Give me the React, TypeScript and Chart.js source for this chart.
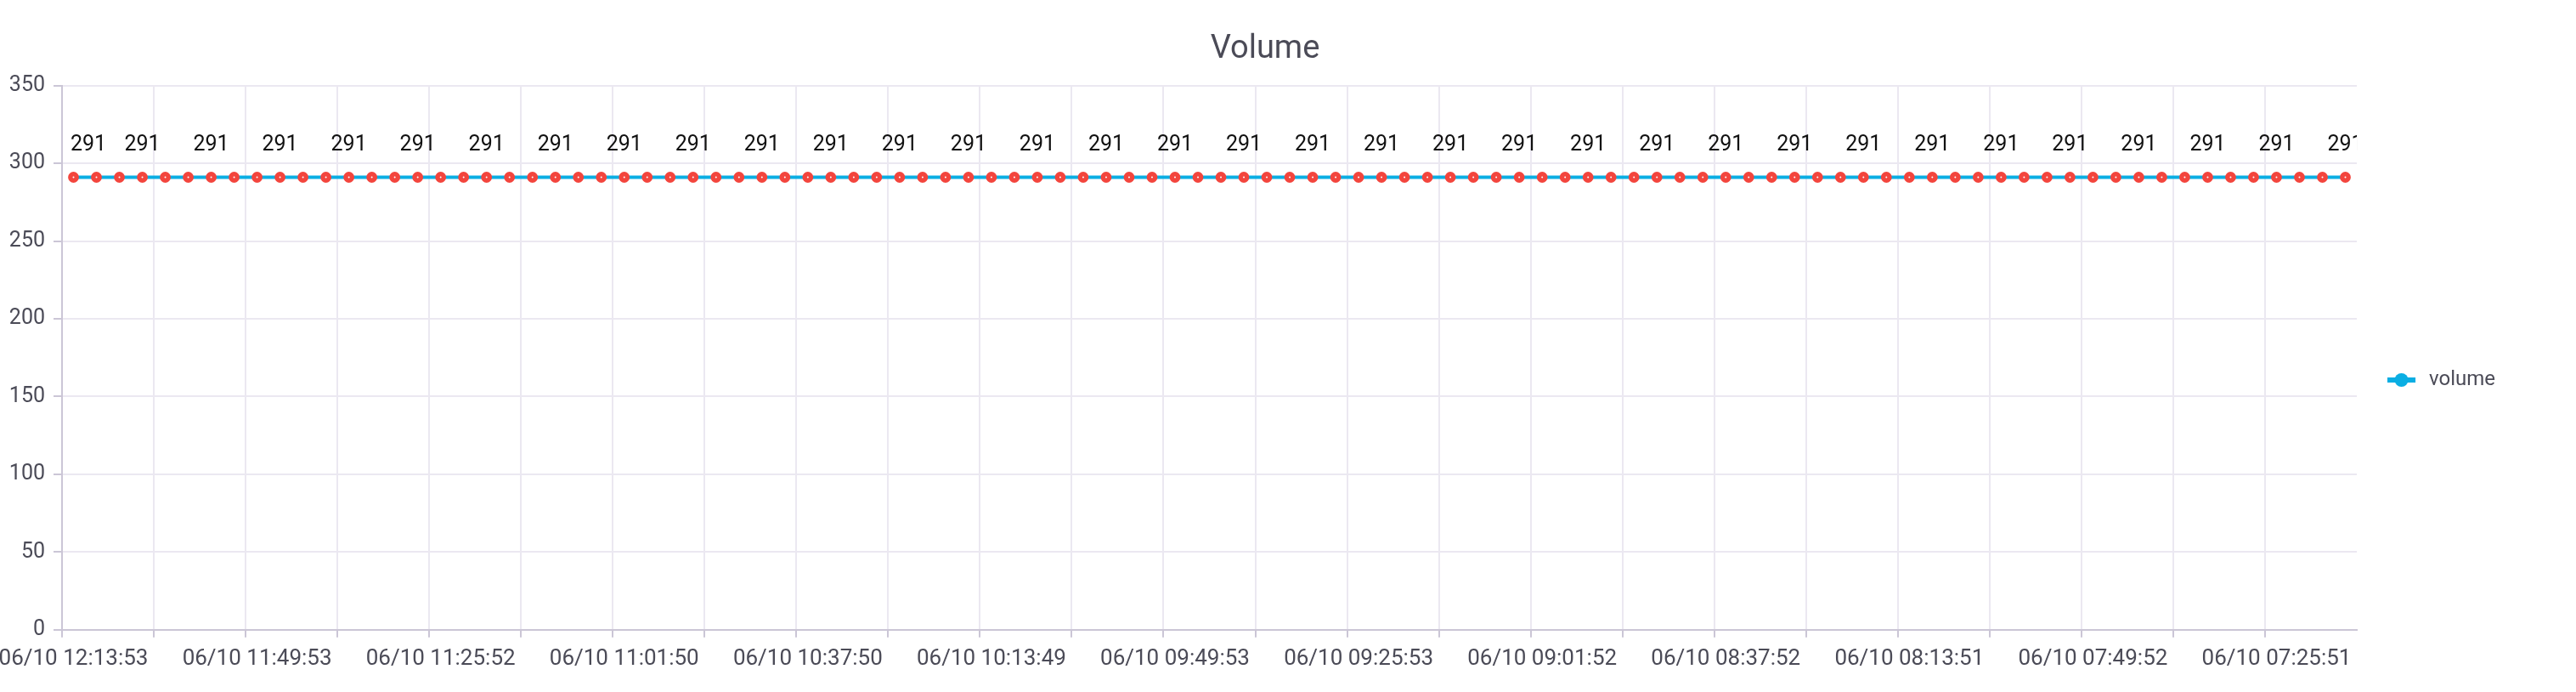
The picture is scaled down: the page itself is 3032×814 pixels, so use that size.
import React, { useEffect, useRef } from "react";
import { Chart, registerables, layouts } from "chart.js";

Chart.register(...registerables);

const TITLE = "Volume";
const SERIES_NAME = "volume";

const CATEGORIES = [
  "06/10 12:13:53", "06/10 12:10:53", "06/10 12:07:53", "06/10 12:04:53", "06/10 12:01:53",
  "06/10 11:58:53", "06/10 11:55:53", "06/10 11:52:53", "06/10 11:49:53", "06/10 11:46:53",
  "06/10 11:43:53", "06/10 11:40:53", "06/10 11:37:53", "06/10 11:34:52", "06/10 11:31:52",
  "06/10 11:28:52", "06/10 11:25:52", "06/10 11:22:52", "06/10 11:19:52", "06/10 11:16:51",
  "06/10 11:13:51", "06/10 11:10:51", "06/10 11:07:51", "06/10 11:04:50", "06/10 11:01:50",
  "06/10 10:58:50", "06/10 10:55:50", "06/10 10:52:50", "06/10 10:49:50", "06/10 10:46:50",
  "06/10 10:43:50", "06/10 10:40:50", "06/10 10:37:50", "06/10 10:34:50", "06/10 10:31:50",
  "06/10 10:28:50", "06/10 10:25:49", "06/10 10:22:49", "06/10 10:19:49", "06/10 10:16:49",
  "06/10 10:13:49", "06/10 10:10:49", "06/10 10:07:50", "06/10 10:04:50", "06/10 10:01:51",
  "06/10 09:58:51", "06/10 09:55:52", "06/10 09:52:52", "06/10 09:49:53", "06/10 09:46:53",
  "06/10 09:43:53", "06/10 09:40:53", "06/10 09:37:53", "06/10 09:34:53", "06/10 09:31:53",
  "06/10 09:28:53", "06/10 09:25:53", "06/10 09:22:53", "06/10 09:19:53", "06/10 09:16:53",
  "06/10 09:13:52", "06/10 09:10:52", "06/10 09:07:52", "06/10 09:04:52", "06/10 09:01:52",
  "06/10 08:58:52", "06/10 08:55:52", "06/10 08:52:52", "06/10 08:49:52", "06/10 08:46:52",
  "06/10 08:43:52", "06/10 08:40:52", "06/10 08:37:52", "06/10 08:34:52", "06/10 08:31:52",
  "06/10 08:28:52", "06/10 08:25:51", "06/10 08:22:51", "06/10 08:19:51", "06/10 08:16:51",
  "06/10 08:13:51", "06/10 08:10:51", "06/10 08:07:51", "06/10 08:04:51", "06/10 08:01:52",
  "06/10 07:58:52", "06/10 07:55:52", "06/10 07:52:52", "06/10 07:49:52", "06/10 07:46:52",
  "06/10 07:43:52", "06/10 07:40:52", "06/10 07:37:51", "06/10 07:34:51", "06/10 07:31:51",
  "06/10 07:28:51", "06/10 07:25:51", "06/10 07:22:51", "06/10 07:19:51", "06/10 07:16:51",
];

const VOLUME = [
  291, 291, 291, 291, 291, 291, 291, 291, 291, 291,
  291, 291, 291, 291, 291, 291, 291, 291, 291, 291,
  291, 291, 291, 291, 291, 291, 291, 291, 291, 291,
  291, 291, 291, 291, 291, 291, 291, 291, 291, 291,
  291, 291, 291, 291, 291, 291, 291, 291, 291, 291,
  291, 291, 291, 291, 291, 291, 291, 291, 291, 291,
  291, 291, 291, 291, 291, 291, 291, 291, 291, 291,
  291, 291, 291, 291, 291, 291, 291, 291, 291, 291,
  291, 291, 291, 291, 291, 291, 291, 291, 291, 291,
  291, 291, 291, 291, 291, 291, 291, 291, 291, 291,
];

const Y_MIN = 0;
const Y_MAX = 350;
const Y_STEP = 50;

const LINE_COLOR = "#0aaee3";
const POINT_COLOR = "#f3453d";
const GRID_COLOR = "#ebe8f1";
const AXIS_COLOR = "#cbc6d6";
const TEXT_COLOR = "#4b4b57";
const FONT = "Roboto";

function makeLegendIcon(): HTMLCanvasElement {
  const c = document.createElement("canvas");
  c.width = 37;
  c.height = 18;
  const g = c.getContext("2d")!;
  g.strokeStyle = LINE_COLOR;
  g.lineWidth = 6;
  g.beginPath();
  g.moveTo(0, 9);
  g.lineTo(33, 9);
  g.stroke();
  g.fillStyle = LINE_COLOR;
  g.beginPath();
  g.arc(16.5, 9, 8, 0, Math.PI * 2);
  g.fill();
  return c;
}

// empty layout box placed to the right of the legend (reserves margin)
const rightSpacer = {
  id: "rightSpacer",
  beforeInit(chart: any) {
    const box: any = {
      position: "right",
      weight: 1500,
      fullSize: true,
      options: {},
      left: 0,
      top: 0,
      right: 0,
      bottom: 0,
      width: 0,
      height: 0,
      isHorizontal() {
        return false;
      },
      update(_maxWidth: number, maxHeight: number) {
        this.width = 31;
        this.height = maxHeight;
      },
      draw() {},
    };
    layouts.addBox(chart, box);
  },
};

const pointLabels = {
  id: "pointLabels",
  afterDatasetsDraw(chart: any) {
    const { ctx, chartArea } = chart;
    const meta = chart.getDatasetMeta(0);
    const data = chart.data.datasets[0].data as number[];
    ctx.save();
    ctx.beginPath();
    ctx.rect(chartArea.left, chartArea.top, chartArea.right - chartArea.left, chartArea.bottom - chartArea.top);
    ctx.clip();
    ctx.font = `25px ${FONT}`;
    ctx.fillStyle = "#111111";
    ctx.textAlign = "center";
    ctx.textBaseline = "middle";
    meta.data.forEach((pt: any, i: number) => {
      if (i % 3 !== 0) return;
      const text = String(data[i]);
      const w = ctx.measureText(text).width;
      const x = Math.max(pt.x, chartArea.left + 10 + w / 2);
      ctx.fillText(text, x, pt.y - 38);
    });
    ctx.restore();
  },
};

export default function App() {
  const ref = useRef<HTMLCanvasElement | null>(null);

  useEffect(() => {
    if (!ref.current) return;
    const icon = makeLegendIcon();
    const chart = new Chart(ref.current, {
      type: "line",
      data: {
        labels: CATEGORIES,
        datasets: [
          {
            label: SERIES_NAME,
            data: VOLUME,
            borderColor: LINE_COLOR,
            backgroundColor: LINE_COLOR,
            borderWidth: 4,
            pointRadius: 3.7,
            pointBorderWidth: 5.4,
            pointBackgroundColor: "#ffffff",
            pointBorderColor: POINT_COLOR,
            pointHoverRadius: 3.7,
            tension: 0,
          },
        ],
      },
      options: {
        animation: false,
        responsive: true,
        maintainAspectRatio: false,
        devicePixelRatio: 1,
        layout: { padding: { left: 0, right: 54, top: 0, bottom: 13 } },
        plugins: {
          tooltip: { enabled: false },
          title: {
            display: true,
            text: TITLE,
            color: TEXT_COLOR,
            font: { family: FONT, size: 38, weight: "normal" },
            padding: { top: 36, bottom: 19 },
          },
          legend: {
            display: true,
            position: "right",
            title: {
              display: true,
              text: "",
              font: { family: FONT, size: 5 },
              padding: { top: 87, bottom: 0 },
            },
            labels: {
              usePointStyle: true,
              pointStyle: icon as any,
              pointStyleWidth: 37,
              padding: 36,
              color: TEXT_COLOR,
              font: { family: FONT, size: 24 },
            },
          },
        },
        scales: {
          x: {
            type: "category",
            offset: true,
            afterFit: (s: any) => {
              s.paddingLeft = 0;
              s.paddingRight = 0;
            },
            grid: {
              offset: true,
              lineWidth: 2,
              color: (c: any) => (c.index % 4 === 0 ? GRID_COLOR : "rgba(0,0,0,0)"),
              tickColor: (c: any) => (c.index % 4 === 0 ? AXIS_COLOR : "rgba(0,0,0,0)"),
              tickLength: 9,
              tickWidth: 2,
            },
            border: { color: AXIS_COLOR, width: 2 },
            ticks: {
              autoSkip: false,
              maxRotation: 0,
              minRotation: 0,
              padding: 10,
              color: TEXT_COLOR,
              font: { family: FONT, size: 26 },
              callback: (_v: any, i: number) => (i % 8 === 0 ? CATEGORIES[i] : ""),
            },
          },
          y: {
            min: Y_MIN,
            max: Y_MAX,
            afterFit: (s: any) => {
              s.width = 73;
            },
            grid: {
              lineWidth: 2,
              color: GRID_COLOR,
              tickColor: AXIS_COLOR,
              tickLength: 10,
              tickWidth: 2,
            },
            border: { color: AXIS_COLOR, width: 2 },
            ticks: {
              stepSize: Y_STEP,
              padding: 10,
              color: TEXT_COLOR,
              font: { family: FONT, size: 25 },
            },
          },
        },
      },
      plugins: [rightSpacer, pointLabels],
    });
    return () => chart.destroy();
  }, []);

  return (
    <div style={{ position: "absolute", left: 0, top: 0, width: 3032, height: 814, background: "#fff" }}>
      <canvas ref={ref} />
    </div>
  );
}
